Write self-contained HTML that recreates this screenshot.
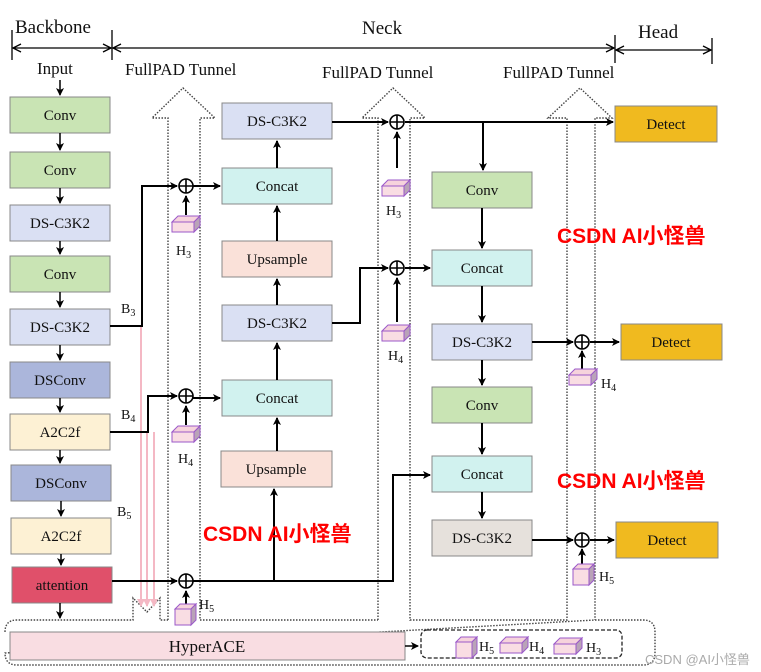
<!DOCTYPE html>
<html><head><meta charset="utf-8"><style>
body{margin:0;background:#fff}
svg{display:block}
text{font-family:"Liberation Serif",serif;fill:#111}
.w{font-family:"Liberation Sans","Noto Sans CJK SC",sans-serif;font-weight:bold;fill:#f00;font-size:21px}
</style></head><body>
<svg width="761" height="672" viewBox="0 0 761 672" xmlns="http://www.w3.org/2000/svg">
<defs>
<marker id="a" markerWidth="8" markerHeight="8" refX="7" refY="4" orient="auto" markerUnits="userSpaceOnUse"><path d="M0 0L8 4L0 8L2 4z" fill="#000"/></marker>
<marker id="p" markerWidth="8" markerHeight="8" refX="7" refY="4" orient="auto" markerUnits="userSpaceOnUse"><path d="M0 0L8 4L0 8z" fill="#f4b8c4"/></marker>
<marker id="o" markerWidth="10" markerHeight="10" refX="1" refY="5" orient="auto" markerUnits="userSpaceOnUse"><path d="M9 1L1 5L9 9" fill="none" stroke="#000" stroke-width="1.3"/></marker>
<marker id="o2" markerWidth="10" markerHeight="10" refX="9" refY="5" orient="auto" markerUnits="userSpaceOnUse"><path d="M1 1L9 5L1 9" fill="none" stroke="#000" stroke-width="1.3"/></marker>
<g id="fl"><path d="M0 6h22v10H0z" fill="#f9dde3" stroke="#9b59c9" stroke-width="1"/><path d="M0 6l6-6h22l-6 6z" fill="#f6d3dc" stroke="#9b59c9" stroke-width="1"/><path d="M22 6l6-6v10l-6 6z" fill="#b9a3b8" stroke="#9b59c9" stroke-width="1"/></g>
<g id="cu"><path d="M0 5h16v16H0z" fill="#f9dde3" stroke="#9b59c9" stroke-width="1"/><path d="M0 5l5-5h16l-5 5z" fill="#f6d3dc" stroke="#9b59c9" stroke-width="1"/><path d="M16 5l5-5v16l-5 5z" fill="#b9a3b8" stroke="#9b59c9" stroke-width="1"/></g>
<g id="op"><circle r="7" fill="#fff" stroke="#000" stroke-width="1.6"/><path d="M-7 0h14M0 -7v14" stroke="#000" stroke-width="1.6"/></g>
</defs>

<text x="15" y="33" font-size="19">Backbone</text>
<text x="362" y="34" font-size="19">Neck</text>
<text x="638" y="38" font-size="19">Head</text>
<g stroke="#000" stroke-width="1.3" fill="none">
<path d="M12 30v30M112 30v30M615 35v28M712 38v26"/>
<path d="M13 48H111" marker-start="url(#o)" marker-end="url(#o2)"/>
<path d="M113 48H614" marker-start="url(#o)" marker-end="url(#o2)"/>
<path d="M616 50H711" marker-start="url(#o)" marker-end="url(#o2)"/>
</g>
<text x="37" y="74" font-size="17">Input</text>
<text x="125" y="75" font-size="17">FullPAD Tunnel</text>
<text x="322" y="78" font-size="17">FullPAD Tunnel</text>
<text x="503" y="78" font-size="17">FullPAD Tunnel</text>

<g stroke="#444" stroke-width="1.4" fill="none" stroke-dasharray="1.5 1.5">
<path d="M168 620V118H152L183 88L215 118H200V620"/>
<path d="M378 620V118H362L393 88L425 118H410V620H567V118H548L580 88L612 118H595V620"/>
<path d="M200 620H378"/>
<path d="M5 632Q5 620 17 620H133V598L147 612L160 598V620H168"/>
<path d="M595 620H643Q655 620 655 632V653Q655 665 643 665H17Q5 665 5 653Z"/>
</g>

<g stroke="#888" stroke-width="1">
<rect x="10" y="97" width="100" height="36" fill="#c9e4b4"/>
<rect x="10" y="152" width="100" height="36" fill="#c9e4b4"/>
<rect x="10" y="205" width="100" height="36" fill="#dae0f3"/>
<rect x="10" y="256" width="100" height="36" fill="#c9e4b4"/>
<rect x="10" y="309" width="100" height="36" fill="#dae0f3"/>
<rect x="10" y="362" width="100" height="36" fill="#abb6db"/>
<rect x="10" y="414" width="100" height="36" fill="#fdf1d4"/>
<rect x="11" y="465" width="100" height="36" fill="#abb6db"/>
<rect x="11" y="518" width="100" height="36" fill="#fdf1d4"/>
<rect x="12" y="567" width="100" height="36" fill="#e0506a"/>
<rect x="222" y="103" width="110" height="36" fill="#dae0f3"/>
<rect x="222" y="168" width="110" height="36" fill="#d1f2ef"/>
<rect x="222" y="241" width="110" height="36" fill="#fae1d9"/>
<rect x="222" y="305" width="110" height="36" fill="#dae0f3"/>
<rect x="222" y="380" width="110" height="36" fill="#d1f2ef"/>
<rect x="221" y="451" width="111" height="36" fill="#fae1d9"/>
<rect x="432" y="172" width="100" height="36" fill="#c9e4b4"/>
<rect x="432" y="250" width="100" height="36" fill="#d1f2ef"/>
<rect x="432" y="324" width="100" height="36" fill="#dae0f3"/>
<rect x="432" y="387" width="100" height="36" fill="#c9e4b4"/>
<rect x="432" y="456" width="100" height="36" fill="#d1f2ef"/>
<rect x="432" y="520" width="100" height="36" fill="#e6e1dc"/>
<rect x="615" y="106" width="102" height="36" fill="#f0ba1f"/>
<rect x="621" y="324" width="101" height="36" fill="#f0ba1f"/>
<rect x="616" y="522" width="102" height="36" fill="#f0ba1f"/>
<rect x="10" y="632" width="395" height="28" fill="#f9dde2"/>
</g>
<g font-size="15" text-anchor="middle">
<text x="60" y="120">Conv</text><text x="60" y="175">Conv</text><text x="60" y="228">DS-C3K2</text>
<text x="60" y="279">Conv</text><text x="60" y="332">DS-C3K2</text><text x="60" y="385">DSConv</text>
<text x="60" y="437">A2C2f</text><text x="61" y="488">DSConv</text><text x="61" y="541">A2C2f</text>
<text x="62" y="590">attention</text>
<text x="277" y="126">DS-C3K2</text><text x="277" y="191">Concat</text><text x="277" y="264">Upsample</text>
<text x="277" y="328">DS-C3K2</text><text x="277" y="403">Concat</text><text x="276" y="474">Upsample</text>
<text x="482" y="195">Conv</text><text x="482" y="273">Concat</text><text x="482" y="347">DS-C3K2</text>
<text x="482" y="410">Conv</text><text x="482" y="479">Concat</text><text x="482" y="543">DS-C3K2</text>
<text x="666" y="129">Detect</text><text x="671" y="347">Detect</text><text x="667" y="545">Detect</text>
<text x="207" y="652" font-size="17">HyperACE</text>
</g>

<g stroke="#f4b8c4" stroke-width="2" fill="none">
<path d="M141 326V606" marker-end="url(#p)"/>
<path d="M147 432V606" marker-end="url(#p)"/>
<path d="M154 432V606" marker-end="url(#p)"/>
</g>

<g stroke="#000" stroke-width="1.5" fill="none" marker-end="url(#a)">
<path d="M60 80V95"/><path d="M60 133V150"/><path d="M60 188V203"/><path d="M60 241V254"/><path d="M60 292V307"/><path d="M60 345V360"/><path d="M60 398V412"/><path d="M60 450V463"/><path d="M61 501V516"/><path d="M61 554V565"/><path d="M60 603V618"/>
</g>
<g stroke="#000" stroke-width="2" fill="none" marker-end="url(#a)">
<path d="M110 326H142V186H177"/>
<path d="M193 186H220"/>
<path d="M110 432H148V396H177"/>
<path d="M193 398H220"/>
<path d="M112 581H177"/>
<path d="M193 581H393V475H430"/>
<path d="M274 581V489"/>
<path d="M277 451V418"/><path d="M277 380V343"/><path d="M277 305V279"/><path d="M277 241V206"/><path d="M277 168V141"/>
<path d="M332 323H360V268H388"/>
<path d="M405 268H430"/>
<path d="M332 122H388"/>
<path d="M405 122H613"/>
<path d="M483 122V170"/><path d="M482 208V248"/><path d="M482 286V322"/><path d="M482 360V385"/><path d="M482 423V454"/><path d="M482 492V518"/>
<path d="M532 342H573"/>
<path d="M590 342H619"/>
<path d="M532 540H573"/>
<path d="M590 540H614"/>
<path d="M186 215V196"/><path d="M186 425V406"/><path d="M186 607V591"/><path d="M397 168V132"/><path d="M397 322V278"/><path d="M582 370V351"/><path d="M582 566V549"/>
<path d="M405 646H418" stroke-width="1.5"/>
</g>
<use href="#op" x="186" y="186"/><use href="#op" x="186" y="396"/><use href="#op" x="186" y="581"/>
<use href="#op" x="397" y="122"/><use href="#op" x="397" y="268"/><use href="#op" x="582" y="342"/><use href="#op" x="582" y="540"/>

<use href="#fl" x="172" y="216"/><use href="#fl" x="172" y="426"/><use href="#cu" x="175" y="604"/>
<use href="#fl" x="382" y="180"/><use href="#fl" x="382" y="325"/>
<use href="#fl" x="569" y="369"/><use href="#cu" x="573" y="564"/>
<rect x="421" y="630" width="201" height="28" rx="6" fill="none" stroke="#222" stroke-width="1.3" stroke-dasharray="4 2"/>
<use href="#cu" x="456" y="637"/><use href="#fl" x="500" y="637"/><use href="#fl" x="554" y="638"/>

<g font-size="14">
<text x="121" y="313">B<tspan font-size="10" dy="3">3</tspan></text>
<text x="121" y="419">B<tspan font-size="10" dy="3">4</tspan></text>
<text x="117" y="516">B<tspan font-size="10" dy="3">5</tspan></text>
<text x="176" y="255">H<tspan font-size="10" dy="3">3</tspan></text>
<text x="178" y="463">H<tspan font-size="10" dy="3">4</tspan></text>
<text x="199" y="609">H<tspan font-size="10" dy="3">5</tspan></text>
<text x="386" y="215">H<tspan font-size="10" dy="3">3</tspan></text>
<text x="388" y="360">H<tspan font-size="10" dy="3">4</tspan></text>
<text x="601" y="388">H<tspan font-size="10" dy="3">4</tspan></text>
<text x="599" y="581">H<tspan font-size="10" dy="3">5</tspan></text>
<text x="479" y="651">H<tspan font-size="10" dy="3">5</tspan></text>
<text x="529" y="651">H<tspan font-size="10" dy="3">4</tspan></text>
<text x="586" y="652">H<tspan font-size="10" dy="3">3</tspan></text>
</g>
<text class="w" x="557" y="243">CSDN AI小怪兽</text>
<text class="w" x="557" y="488">CSDN AI小怪兽</text>
<text class="w" x="203" y="541">CSDN AI小怪兽</text>
<text x="645" y="664" font-size="13" style="font-family:'Liberation Sans','Noto Sans CJK SC',sans-serif;fill:#aaa">CSDN @AI小怪兽</text>
</svg>
</body></html>
